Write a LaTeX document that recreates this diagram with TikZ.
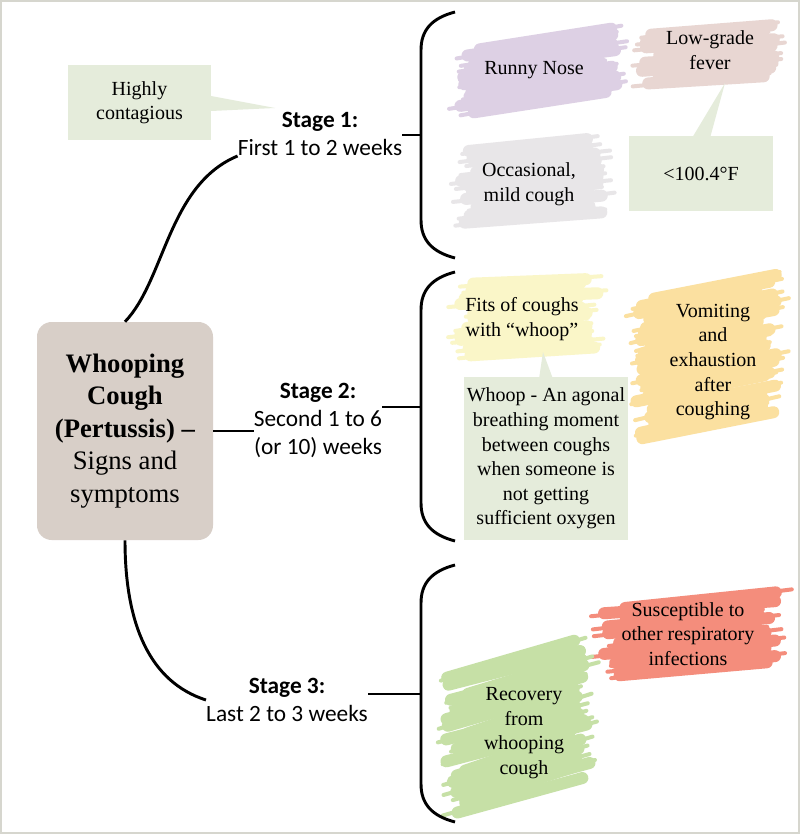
\documentclass[tikz,border=0pt]{standalone}
\usepackage{fontspec}
\setmainfont{Liberation Serif}
\newfontfamily\stagefont{Carlito}
\definecolor{mainfill}{RGB}{216,207,200}
\definecolor{callgreen}{RGB}{229,236,219}
\definecolor{lav}{RGB}{221,208,228}
\definecolor{pinkb}{RGB}{232,214,210}
\definecolor{greyb}{RGB}{232,230,232}
\definecolor{yellowb}{RGB}{250,246,200}
\definecolor{orangeb}{RGB}{251,224,160}
\definecolor{salmon}{RGB}{244,141,124}
\definecolor{greenb}{RGB}{198,224,166}
\definecolor{framec}{RGB}{214,214,206}
\newcommand{\scrib}[6]{%
  \pgfmathtruncatemacro{\nn}{(#5-12)/7}%
  \foreach \i in {0,...,\nn}{%
    \pgfmathsetmacro{\ya}{#3+6+\i*7+rand*2}%
    \pgfmathsetmacro{\xa}{#2+6+rnd*22}%
    \pgfmathsetmacro{\xb}{#2+#4-6-rnd*22}%
    \pgfmathsetmacro{\yb}{\ya-#6+rand*2}%
    \draw[draw=#1, line width=9pt, line cap=round] (\xa,\ya) -- (\xb,\yb);
    \pgfmathsetmacro{\xc}{\xa-2-rnd*14}%
    \pgfmathsetmacro{\xd}{\xb+2+rnd*14}%
    \draw[draw=#1, line width=3pt, line cap=round] (\xc,\ya+3) -- (\xd,\yb-3);
  }}
\tikzset{
  conn/.style={line width=2.2pt, black},
  serif/.style={font=\fontsize{15pt}{18.4pt}\selectfont, align=center, inner sep=0pt},
  stagelbl/.style={font=\stagefont\fontsize{17.5pt}{21pt}\selectfont, align=center, inner sep=0pt},
  callbox/.style={fill=callgreen, draw=none, font=\fontsize{15pt}{18.4pt}\selectfont, align=center, inner sep=0pt},
  mainbox/.style={fill=mainfill, rounded corners=11pt, minimum width=132pt, minimum height=163.5pt, align=center, inner sep=0pt, font=\fontsize{20pt}{24.4pt}\selectfont}
}
\begin{document}
\begin{tikzpicture}[x=0.75pt,y=-0.75pt]
\pgfmathsetseed{11}
\useasboundingbox (0,0) rectangle (800,834);
\fill[white] (0,0) rectangle (800,834);
\draw[framec, line width=1.5pt] (1,1) rectangle (799,833);

% scribble blobs
\scrib{lav}{453}{42}{172}{80}{20}
\scrib{pinkb}{635}{28}{148}{62}{8}
\scrib{greyb}{455}{145}{153}{88}{10}
\scrib{yellowb}{452}{278}{153}{88}{6}
\scrib{orangeb}{630}{292}{152}{158}{25}
\scrib{salmon}{598}{600}{186}{84}{14}
\scrib{greenb}{440}{672}{156}{146}{35}

% callout pointers
\fill[callgreen] (211,96) -- (211,111) -- (275,108) -- cycle;
\fill[callgreen] (692,138) -- (710,138) -- (725,83) -- cycle;
\fill[callgreen] (539,379) -- (553,379) -- (543,352) -- cycle;

% callout boxes
\node[callbox, minimum width=107pt, minimum height=56pt] (hc) at (139.5,102.5) {Highly\\contagious};
\node[callbox, minimum width=108pt, minimum height=56pt] (temp) at (701,173.5) {<100.4°F};
\node[callbox, minimum width=123pt, minimum height=122pt] (whoop) at (546,458.5)
  {Whoop - An agonal\\breathing moment\\between coughs\\when someone is\\not getting\\sufficient oxygen};

% blob texts
\node[serif] (rn) at (534,70) {Runny Nose};
\node[serif] (lg) at (710,50) {Low-grade\\fever};
\node[serif] (oc) at (529,184) {Occasional,\\mild cough};
\node[serif] (fits) at (522,319) {Fits of coughs\\with “whoop”};
\node[serif] (vom) at (713,362) {Vomiting\\and\\exhaustion\\after\\coughing};
\node[serif] (sus) at (688,634) {Susceptible to\\other respiratory\\infections};
\node[serif] (rec) at (524,733) {Recovery\\from\\whooping\\cough};

% main node
\node[mainbox] (main) at (125,431) {\textbf{Whooping}\\\textbf{Cough}\\\textbf{(Pertussis) –}\\Signs and\\symptoms};

% stage labels
\node[stagelbl] (s1) at (320,134) {\textbf{Stage 1:}\\First 1 to 2 weeks};
\node[stagelbl] (s2) at (318,420) {\textbf{Stage 2:}\\Second 1 to 6\\(or 10) weeks};
\node[stagelbl] (s3) at (287,700) {\textbf{Stage 3:}\\Last 2 to 3 weeks};

% brace tips
\coordinate (b1) at (421,135);
\coordinate (b2) at (421,407);
\coordinate (b3) at (421,694);

% braces
\draw[conn] (455,12) .. controls (432,18) and (421,30) .. (421,50) -- (421,220) .. controls (421,240) and (432,252) .. (455,258);
\draw[conn] (455,272) .. controls (432,278) and (421,290) .. (421,310) -- (421,503) .. controls (421,523) and (432,535) .. (455,541);
\draw[conn] (455,565) .. controls (432,571) and (421,583) .. (421,603) -- (421,784) .. controls (421,804) and (432,816) .. (455,822);

% connectors
\draw[conn] (main.north) .. controls (165,280) and (168,185) .. (s1.south west);
\draw[conn] (main.east) -- (main.east -| s2.west);
\draw[conn] (main.south) .. controls (125,625) and (150,682) .. (s3.west);
\draw[conn] (s1.east |- b1) -- (b1);
\draw[conn] (s2.east |- b2) -- (b2);
\draw[conn] (s3.east |- b3) -- (b3);
\end{tikzpicture}
\end{document}
